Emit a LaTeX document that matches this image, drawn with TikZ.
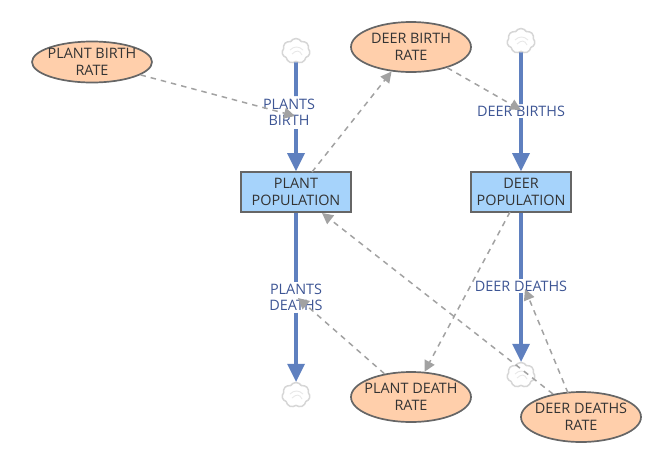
\documentclass[tikz,border=0pt]{standalone}
\usepackage{fontspec}
\setmainfont{Open Sans}
\usetikzlibrary{arrows.meta,shapes.geometric,shapes.symbols}
\definecolor{flowc}{HTML}{5F80BF}
\definecolor{flowt}{HTML}{3D5594}
\definecolor{inkc}{HTML}{333333}
\definecolor{edgec}{HTML}{666666}
\definecolor{dashc}{HTML}{A2A2A2}
\definecolor{rate}{HTML}{FFCFAB}
\definecolor{stock}{HTML}{A6D3FB}
\definecolor{cloudc}{HTML}{D6D6D6}
\definecolor{cloudi}{HTML}{E8E8E8}
\tikzset{
 x=1pt,y=-1pt,
 base/.style={font=\fontsize{14.4}{16.5}\selectfont,align=center,inner sep=0pt},
 ratenode/.style={base,ellipse,draw=edgec,line width=1.7pt,fill=rate,text=inkc,minimum width=120pt,inner sep=-13pt},
 stocknode/.style={base,rectangle,draw=edgec,line width=1.7pt,fill=stock,text=inkc,minimum height=40pt},
 flowlabel/.style={base,text=flowt,inner sep=1.5pt},
 cloudnode/.style={cloud,cloud puffs=7,cloud puff arc=120,aspect=1.1,draw=cloudc,line width=1.5pt,fill=white,minimum width=28pt,minimum height=25pt,inner sep=0pt},
 cloudline/.style={draw=cloudi,line width=0.9pt},
 flowline/.style={draw=flowc,line width=3.8pt},
 flowarrow/.style={flowline,-{Triangle[width=18pt,length=18pt,line width=0pt,fill=flowc]}},
 link/.style={draw=dashc,line width=1.5pt,dash pattern=on 5.5pt off 5pt,-{Triangle[width=11pt,length=11pt,fill=dashc]}},
}
\begin{document}
\begin{tikzpicture}
\useasboundingbox (0,0) rectangle (672,464);
\node[ratenode,minimum height=41pt] (pbr) at (92,62) {PLANT BIRTH\\RATE};
\node[ratenode,minimum height=50pt] (dbr) at (411,47) {DEER BIRTH\\RATE};
\node[ratenode,minimum height=50pt] (pdr) at (411,397) {PLANT DEATH\\RATE};
\node[ratenode,minimum height=50pt] (ddr) at (581,417) {DEER DEATHS\\RATE};
\node[stocknode,minimum width=110pt] (pp) at (296,192) {PLANT\\POPULATION};
\node[stocknode,minimum width=100pt] (dp) at (521,192) {DEER\\POPULATION};
\node[cloudnode] (c1) at (296,51) {};
\node[cloudnode] (c2) at (521,41) {};
\node[cloudnode] (c3) at (296,395) {};
\node[cloudnode] (c4) at (521,375) {};
\foreach \c in {c1,c2,c3,c4}{
  \draw[cloudline] ([xshift=-6pt,yshift=1pt]\c.center) .. controls ([xshift=-2pt,yshift=5pt]\c.center) and ([xshift=3pt,yshift=5pt]\c.center) .. ([xshift=7pt,yshift=1pt]\c.center);
  \draw[cloudline] ([xshift=-4pt,yshift=-3pt]\c.center) .. controls ([xshift=0pt,yshift=1pt]\c.center) and ([xshift=4pt,yshift=1pt]\c.center) .. ([xshift=6pt,yshift=-4pt]\c.center);
}
\node[flowlabel] (pb) at (289,112.5) {PLANTS\\BIRTH};
\node[flowlabel] (db) at (521,111) {DEER BIRTHS};
\node[flowlabel] (pd) at (296,297.5) {PLANTS\\DEATHS};
\node[flowlabel] (dd) at (521,286) {DEER DEATHS};
\coordinate (pbtop) at (296,96);
\coordinate (pbbot) at (296,129);
\draw[flowline] (c1) -- (pbtop);
\draw[flowarrow] (pbbot) -- (pp.north);
\draw[flowline] (c2) -- (db);
\draw[flowarrow] (db) -- (dp.north);
\draw[flowline] (pp) -- (pd);
\draw[flowarrow] (pd) -- (c3.north);
\draw[flowline] (dp) -- (dd);
\draw[flowarrow] (dd) -- (c4.north);
\coordinate (a1) at (295,116);
\coordinate (a2) at (521,110);
\coordinate (a3) at (298,298);
\coordinate (a4) at (525,289);
\coordinate (s1) at (312,172);
\coordinate (s2) at (510,212);
\coordinate (s3) at (553,394);
\coordinate (s4) at (568,393);
\coordinate (t1) at (322,213);
\draw[link] (pbr) -- (a1);
\draw[link] (s1) -- (dbr);
\draw[link] (dbr) -- (a2);
\draw[link] (s2) -- (pdr);
\draw[link] (pdr) -- (a3);
\draw[link] (s4) -- (a4);
\draw[link] (s3) -- (t1);
\end{tikzpicture}
\end{document}
